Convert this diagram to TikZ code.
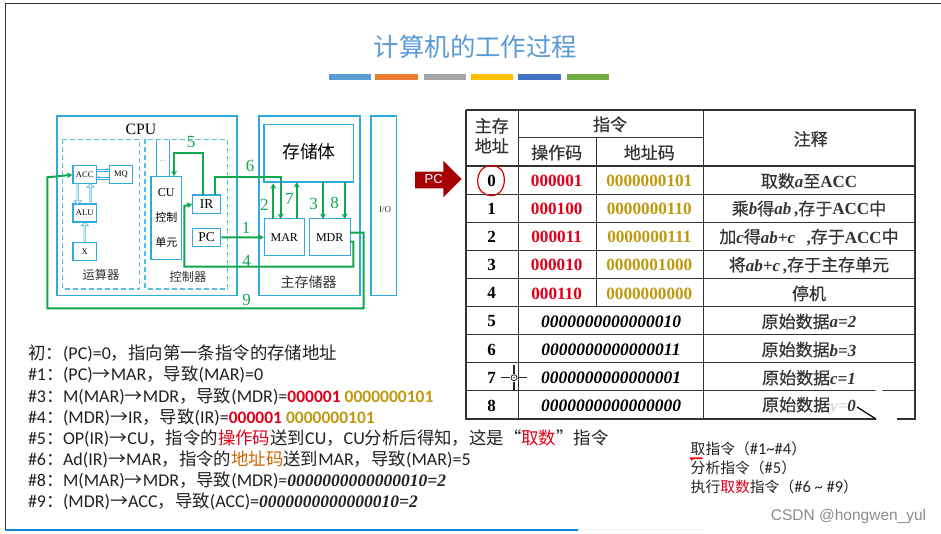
\documentclass[tikz,border=0pt]{standalone}
\usepackage{fontspec}
\setmainfont{Liberation Sans}
\newfontfamily\cjk{Noto Sans CJK SC}
\newfontfamily\cjkm[FakeBold=0.5]{Noto Sans CJK SC}
\newfontfamily\serifb{Liberation Serif}
\newfontfamily\carl{Carlito}
\usetikzlibrary{arrows.meta}
\definecolor{frameblue}{HTML}{2FA9DE}
\definecolor{dashblue}{HTML}{55BDE6}
\definecolor{flow}{HTML}{0FA84E}
\definecolor{opred}{HTML}{E0001B}
\definecolor{adgold}{HTML}{BE9A10}
\definecolor{titleblue}{HTML}{5B9BD5}
\definecolor{txt}{HTML}{222222}
\definecolor{rulec}{HTML}{333333}
\tikzset{
 x=1pt,y=-1pt,
 blk/.style={draw=frameblue,line width=1.7pt},
 box/.style={draw=frameblue,line width=1.1pt,fill=white,inner sep=0pt,text=black},
 dbox/.style={draw=dashblue,line width=1.1pt,dash pattern=on 5pt off 3pt},
 fl/.style={draw=flow,line width=2pt,-{Stealth[length=5.5pt,width=6pt]}},
 num/.style={text=flow,font=\serifb\fontsize{17}{17}\selectfont,inner sep=0pt},
 hol/.style={single arrow,draw=dashblue,line width=0.7pt,fill=white,inner sep=0pt,minimum width=7pt,single arrow head extend=1.5pt,single arrow head indent=0pt},
 thn/.style={draw=frameblue,line width=0.7pt},
 captext/.style={font=\cjk\fontsize{12.2}{12.2}\selectfont,text=black!80,inner sep=0pt},
 lst/.style={anchor=west,inner sep=0pt,font=\cjk\fontsize{17.4}{17.4}\selectfont,text=txt},
 tb/.style={draw=rulec,line width=1.1pt},
 tB/.style={draw=rulec,line width=1.9pt},
 ch/.style={font=\cjkm\fontsize{17}{20}\selectfont,text=rulec,inner sep=0pt},
 opc/.style={font=\serifb\bfseries\fontsize{17.2}{17}\selectfont,text=opred,inner sep=0pt},
 adc/.style={font=\serifb\bfseries\fontsize{17.2}{17}\selectfont,text=adgold,inner sep=0pt},
 ad/.style={font=\serifb\bfseries\fontsize{17}{17}\selectfont,text=black,inner sep=0pt},
 dat/.style={font=\serifb\bfseries\itshape\fontsize{17.5}{17}\selectfont,text=black,inner sep=0pt},
 nt/.style={font=\cjkm\fontsize{17}{17}\selectfont,text=rulec,inner sep=0pt},
 side/.style={anchor=west,inner sep=0pt,font=\cjk\fontsize{14.8}{14.8}\selectfont,text=txt},
 smallb/.style={box,minimum width=23.5pt,minimum height=18pt,font=\serifb\fontsize{8.5}{8.5}\selectfont},
}
\usetikzlibrary{shapes.arrows}
\newcommand{\sbf}[1]{{\serifb\bfseries #1}}
\newcommand{\sbi}[1]{{\serifb\bfseries\itshape #1}}
\newcommand{\rr}[1]{\textcolor{opred}{#1}}
\newcommand{\cb}[1]{{\carl\fontsize{18}{18}\selectfont #1}}
\newcommand{\cs}[1]{{\carl\fontsize{16.5}{16.5}\selectfont #1}}
\newcommand{\ar}{{\fontsize{18}{18}\selectfont →}}
\newcommand{\itm}[2]{\makebox[35pt][l]{#1}#2}
\newcommand{\rcode}{\textcolor{opred}{\carl\bfseries\fontsize{17.5}{17.5}\selectfont 000001}\hspace{4pt}\textcolor{adgold}{\carl\bfseries\fontsize{17.5}{17.5}\selectfont 0000000101}}
\newcommand{\lcode}{\sbi{\fontsize{17.5}{17.5}\selectfont 0000000000000010=2}}
\begin{document}
\begin{tikzpicture}
\useasboundingbox (0,0) rectangle (941,534);
\fill[white] (0,0) rectangle (941,534);
% frame
\draw[rulec,line width=1pt] (5,3.5) -- (941,3.5);
\draw[rulec,line width=0.9pt] (5,3.5) -- (5,530);
\fill[cyan!70!blue] (5,528.5) rectangle (578,530.5);
\fill[black!6] (578,529) rectangle (703,530);
% title
\node[inner sep=0pt,text=titleblue,font=\cjk\fontsize{25.4}{25.4}\selectfont] (title) at (475.5,47) {计算机的工作过程};
\foreach \a/\b/\c in {329.3/371.3/5B9BD5,375.3/418.3/ED7D31,423.7/465.7/A5A5A5,471.3/513.3/FFC000,518.3/561/4472C4,566.7/609/70AD47}{
 \definecolor{tmp}{HTML}{\c}
 \fill[tmp] (\a,74.5) rectangle (\b,80);
}
% --- CPU diagram ---
\draw[blk] (57.3,115.7) rectangle (236.7,295.5);
\draw[blk] (258.7,115.7) rectangle (360,295.5);
\draw[blk] (371.3,115.7) rectangle (396.5,295.5);
\node[inner sep=0pt,font=\serifb\fontsize{9}{9}\selectfont,text=black!80] (io) at (385,209.5) {I/O};
\node[inner sep=0pt,font=\serifb\fontsize{15.8}{15.8}\selectfont] (cpu) at (141,129) {CPU};
\draw[dbox] (62.3,139.5) rectangle (139.3,289);
\draw[dbox] (145,139.5) rectangle (227.7,289);
\draw[draw=frameblue,line width=1.1pt] (264,124.3) rectangle (353.3,182);
\node[inner sep=0pt,font=\cjk\fontsize{17.8}{17.8}\selectfont] (mem) at (309,151.7) {存储体};
\node[smallb] (acc) at (84.7,174.8) {ACC};
\node[smallb] (mq) at (121,174.8) {MQ};
\node[smallb] (alu) at (84.7,213) {ALU};
\node[smallb] (xx) at (84.7,251.5) {X};
\node[captext] (l1) at (101,275) {运算器};
\node[captext] (l2) at (188,276.5) {控制器};
\node[captext,font=\cjk\fontsize{14}{14}\selectfont] (l3) at (308.5,282) {主存储器};
\node[box,minimum width=30.7pt,minimum height=83pt,align=center,font=\cjk\fontsize{11}{25}\selectfont] (cu) at (166.3,217.8) {{\serifb\fontsize{12}{12}\selectfont CU}\\控制\\单元};
\node[box,minimum width=28pt,minimum height=18.3pt,font=\serifb\fontsize{13.5}{13.5}\selectfont] (ir) at (206.7,204.2) {IR};
\node[box,minimum width=28pt,minimum height=18.3pt,font=\serifb\fontsize{13.5}{13.5}\selectfont] (pc) at (206.7,237.5) {PC};
\node[box,minimum width=40pt,minimum height=36.7pt,font=\serifb\fontsize{12}{12}\selectfont] (mar) at (284.3,237.3) {MAR};
\node[box,minimum width=40.7pt,minimum height=36.7pt,font=\serifb\fontsize{12}{12}\selectfont] (mdr) at (329.7,237.3) {MDR};
% thin
\coordinate (cua) at (156,140); \coordinate (cub) at (169.3,140);
\draw[thn] (cua) -- (156,176.3);
\draw[thn] (cub) -- (169.3,176.3);
\node[inner sep=0pt,text=dashblue,font=\fontsize{8}{8}\selectfont] (dots) at (163,161) {...};
\draw[thn,-{Stealth[length=3pt]}] (96.7,169.3) -- (109.3,169.3);
\draw[thn,-{Stealth[length=3pt]}] (109.3,177.3) -- (96.7,177.3);
\draw[thn,line width=0.4pt] (96.7,171.3) -- (109.3,171.3);
\draw[thn,line width=0.4pt] (96.7,179.3) -- (109.3,179.3);
\node[hol,minimum height=20pt,rotate=-90] (h1) at (77.7,194) {};
\node[hol,minimum height=20pt,rotate=90] (h2) at (90.5,194) {};
\node[hol,minimum height=19pt,rotate=90] (h3) at (84.7,232) {};
% green flows
\draw[fl] (203.3,195) -- (203.3,153.3) -- (174,153.3) -- (174,176.3);
\draw[fl] (215,195) -- (215,176.7) -- (280.7,176.7) -- (280.7,219);
\draw[fl] (pc.east) -- (mar.west);
\draw[fl] (273.3,219) -- (273.3,183.3);
\draw[fl] (296.7,219) -- (296.7,182);
\draw[fl] (323,182) -- (323,219);
\draw[fl] (344.7,182) -- (344.7,219);
\draw[fl] (350,241.7) -- (353.3,241.7) -- (353.3,266.7) -- (184.3,266.7) -- (184.3,206) -- (ir.west);
\draw[fl] (350,232.7) -- (363.5,232.7) -- (363.5,308.3) -- (47.3,308.3) -- (47.3,177.3) -- (acc.west);
\node[num] (n1) at (246,228) {1};
\node[num] (n2) at (264.3,205) {2};
\node[num] (n3) at (313.7,204.3) {3};
\node[num] (n4) at (246.7,260.7) {4};
\node[num] (n5) at (191,141.7) {5};
\node[num] (n6) at (250,165.7) {6};
\node[num] (n7) at (289.3,199) {7};
\node[num] (n8) at (334.7,203.3) {8};
\node[num] (n9) at (246.7,300) {9};
% --- table ---
\def\xa{466}\def\xb{518.3}\def\xc{596.7}\def\xd{703.7}\def\xe{915}
\def\ya{110}\def\yb{137.7}
\foreach \i in {0,...,8}{ \pgfmathsetmacro\yy{166+28.1*\i} \draw[tb] (\xa,\yy) -- (\xe,\yy); }
\draw[tb] (\xb,\ya) -- (\xb,419);
\draw[tb] (\xd,\ya) -- (\xd,419);
\draw[tb] (\xc,\yb) -- (\xc,306.5);
\draw[tb] (\xb,\yb) -- (\xd,\yb);
% smudge over last row
\fill[white] (847,392) -- (856,392) -- (858,391.5) -- (877,391.5) -- (868,384) -- (873,380) -- (880,386) -- (883,392) -- (888,398) -- (897,411) -- (897,421) -- (830,421) -- (830,400) -- cycle;
\draw[tB] (\xa,\ya) -- (\xe,\ya) -- (\xe,419) -- (897,419);
\draw[tB] (876,419) -- (\xa,419) -- (\xa,\ya);
\draw[black,line width=1.2pt] (857,407) -- (876,419);
\node[ch,align=center] (h1t) at (491.7,135.7) {主存\\地址};
\node[ch] (h2t) at (610,124.3) {指令};
\node[ch] (h3t) at (556.7,152.5) {操作码};
\node[ch] (h4t) at (649.3,152.5) {地址码};
\node[ch] (h5t) at (810.7,139) {注释};
\foreach \n/\op/\ad/\nt [count=\k from 0] in {
 0/000001/0000000101/{取数\sbi{a}至\sbf{ACC}},
 1/000100/0000000110/{乘\sbi{b}得\sbi{ab}\,\sbf{,}存于\sbf{ACC}中},
 2/000011/0000000111/{加\sbi{c}得\sbi{ab+c}\ \ \ \sbf{,}存于\sbf{ACC}中},
 3/000010/0000001000/{将\sbi{ab+c}\,\sbf{,}存于主存单元},
 4/000110/0000000000/{停机}}{
 \pgfmathsetmacro\yy{181+28.1*\k}
 \node[ad] (r\k) at (491.7,\yy) {\n};
 \node[opc] (o\k) at (556.7,\yy) {\op};
 \node[adc] (c\k) at (649.3,\yy) {\ad};
 \node[nt] (t\k) at (809,\yy) {\nt};
}
\foreach \n/\dd/\nt [count=\k from 5] in {
 5/0000000000000010/{原始数据\sbi{a=2}},
 6/0000000000000011/{原始数据\sbi{b=3}},
 7/0000000000000001/{原始数据\sbi{c=1}},
 8/0000000000000000/{原始数据\textcolor{black!15}{\sbi{y=}}\sbi{0}}}{
 \pgfmathsetmacro\yy{181+28.1*\k}
 \node[ad] (r\k) at (491.7,\yy) {\n};
 \node[dat] (d\k) at (611,\yy) {\dd};
 \node[nt] (t\k) at (809,\yy) {\nt};
}
% PC arrow
\fill[red!65!black] (415,171.7) -- (443.3,171.7) -- (443.3,160.7) -- (461.7,179) -- (443.3,197.3) -- (443.3,188.3) -- (415,188.3) -- cycle;
\node[inner sep=0pt,text=white,font=\fontsize{13}{13}\selectfont] (pctext) at (433.7,179) {PC};
\draw[red!85!black,line width=1.2pt] (491.5,165.7) .. controls (482,165.7) and (477.7,173) .. (477.7,181) .. controls (477.7,190) and (484,195.7) .. (491,195.7) .. controls (500,195.7) and (504.3,188) .. (504.3,180) .. controls (504.3,171) and (500,165.7) .. (491.5,165.7) -- cycle;
% cursor
\draw[black!85,line width=1.3pt] (514,365) -- (514,374) (514,382) -- (514,390.7) (501,377.7) -- (510,377.7) (518,377.7) -- (526.7,377.7);
\draw[black!85,line width=0.8pt] (514,377.7) circle (3pt);
\fill[black!85] (514,377.7) circle (0.8pt);
% --- list ---
\foreach \y/\t in {
 353.5/{\itm{初：}{\cb{(PC)=0}，指向第一条指令的存储地址}},
 374.5/{\itm{\cb{\#1}：}{\cb{(PC)}\ar\cb{MAR}，导致\cb{(MAR)=0}}},
 396.5/{\itm{\cb{\#3}：}{\cb{M(MAR)}\ar\cb{MDR}，导致\cb{(MDR)=}\rcode}},
 417.3/{\itm{\cb{\#4}：}{\cb{(MDR)}\ar\cb{IR}，导致\cb{(IR)=}\rcode}},
 438.3/{\itm{\cb{\#5}：}{\cb{OP(IR)}\ar\cb{CU}，指令的\rr{操作码}送到\cb{CU}，\cb{CU}分析后得知，这是“\rr{取数}”指令}},
 459.3/{\itm{\cb{\#6}：}{\cb{Ad(IR)}\ar\cb{MAR}，指令的\textcolor{orange!80!black}{地址码}送到\cb{MAR}，导致\cb{(MAR)=5}}},
 480.7/{\itm{\cb{\#8}：}{\cb{M(MAR)}\ar\cb{MDR}，导致\cb{(MDR)=}\lcode}},
 501/{\itm{\cb{\#9}：}{\cb{(MDR)}\ar\cb{ACC}，导致\cb{(ACC)=}\lcode}}}{
 \node[lst] at (27.8,\y) {\t};
}
% side list
\node[side] (s1) at (690.5,449) {取指令（\cs{\#1\textasciitilde\#4}）};
\node[side] (s2) at (690.5,468.3) {分析指令（\cs{\#5}）};
\node[side] (s3) at (690.5,486.7) {执行\rr{取数}指令（\cs{\#6 \textasciitilde\ \#9}）};
\fill[red] (690,457.5) -- (702.7,457.3) -- (702.7,458.8) -- (694,459) -- (691,460.7) -- cycle;
\node[inner sep=0pt,anchor=west,text=black!45,font=\fontsize{15.5}{15.5}\selectfont] (wm) at (770.7,516) {CSDN @hongwen\_yul};
\end{tikzpicture}
\end{document}
